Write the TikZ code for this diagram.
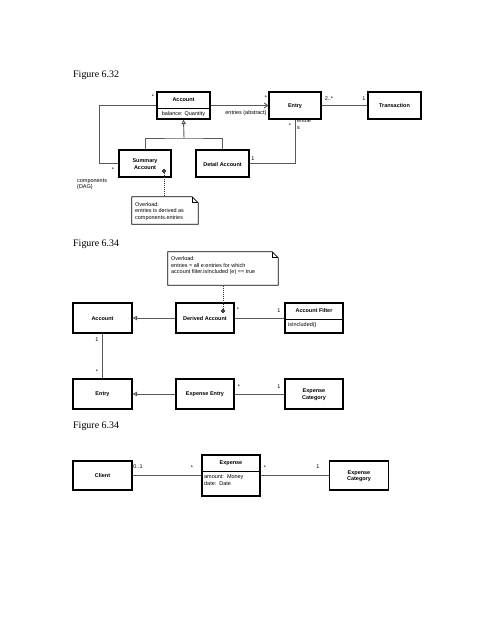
\documentclass[tikz,border=0pt]{standalone}
\usepackage{fontspec}
\setmainfont{Liberation Serif}
\newfontfamily\arialf{Liberation Sans}
\usetikzlibrary{arrows.meta}
\tikzset{
  cls/.style={draw=black, line width=1.2bp, fill=white, inner sep=0pt},
  txt/.style={font=\arialf\fontsize{5.5}{6.6}\selectfont, inner sep=0pt, align=center},
  bname/.style={txt, font=\arialf\bfseries\fontsize{5.5}{6.6}\selectfont},
  ltxt/.style={txt, align=left},
  title/.style={font=\fontsize{10}{12}\selectfont, inner sep=0pt, anchor=west},
  conn/.style={draw=black!65, line width=0.9bp},
  gen/.style={conn, -{Triangle[open, length=4.5bp, width=4.5bp, line width=0.9bp]}},
  nav/.style={conn, -{Straight Barb[length=3.5bp, width=5bp]}},
  notebox/.style={inner sep=0pt, draw=none},
  notelink/.style={draw=black!80, line width=0.8bp, dash pattern=on 1.2bp off 0.8bp},
  pin/.style={circle, draw=black, line width=0.8bp, fill=white, inner sep=0pt, minimum size=3bp},
}
\newcommand{\notedraw}[1]{%
  \draw[line width=0.7bp] (#1.south west) -- (#1.north west) -- ([xshift=-6bp]#1.north east)
    -- ([yshift=-6bp]#1.north east) -- (#1.south east) -- cycle;
  \draw[line width=0.7bp] ([xshift=-6bp]#1.north east) |- ([yshift=-6bp]#1.north east);}
\begin{document}
\begin{tikzpicture}[x=1bp, y=-1bp]
\useasboundingbox (0,0) rectangle (495,640);
\fill[white] (0,0) rectangle (495,640);

% ---------------- Figure 6.32 ----------------
\node[title] (t1) at (73,75) {Figure 6.32};

\node[cls, minimum width=53bp, minimum height=27bp] (acc1) at (183.5,105.5) {};
\draw[line width=1bp] (acc1.west |- 0,109) -- (acc1.east |- 0,109);
\node[bname] (acc1n) at (183.5,100) {Account};
\node[txt] (acc1a) at (183.5,114.5) {balance: Quantity};

\node[cls, minimum width=52bp, minimum height=27bp] (entry1) at (295,105.5) {};
\node[bname] (entry1n) at (295,106) {Entry};

\node[cls, minimum width=53bp, minimum height=27bp] (trans) at (394.5,105.5) {};
\node[bname] (transn) at (394.5,106) {Transaction};

\node[cls, minimum width=52bp, minimum height=27bp] (sum) at (145,163.5) {};
\node[bname] (sumn) at (145,164) {Summary\\Account};

\node[cls, minimum width=53bp, minimum height=27bp] (det) at (222.5,163.5) {};
\node[bname] (detn) at (222.5,164.5) {Detail Account};

\node[notebox, minimum width=66bp, minimum height=27bp] (note1) at (165,210.5) {};
\notedraw{note1}
\node[ltxt, anchor=north west] (note1t) at (135,202) {Overload:\\entries is derived as\\components.entries};

% composite loop
\coordinate (loopc) at (99,105.5);
\draw[conn] (acc1.west) -- (loopc) |- (sum.west);
\node[txt] (m1) at (153,96.5) {*};
\node[txt] (m2) at (113,170) {*};
\node[ltxt, anchor=north west] (comp) at (77,178.5) {components\\\{DAG\}};

% generalization tree
\coordinate (gj) at (184,138);
\draw[conn] (sum.north) |- (gj) -| (det.north);
\draw[gen] (gj) -- (acc1.south);

% account -> entry
\draw[nav] (acc1.east) -- (entry1.west);
\node[txt] (ea) at (246,113.5) {entries (abstract)};
\node[txt] (m3) at (266,97.5) {*};

% entry - transaction
\draw[conn] (entry1.east) -- (trans.west);
\node[txt] (m4) at (329,99) {2..*};
\node[txt] (m5) at (364,99) {1};

% detail - entry
\draw[conn] (det.east) -| (entry1.south);
\node[txt] (m6) at (253,158.5) {1};
\node[txt] (m7) at (290,125.5) {*};
\node[ltxt, anchor=north west] (entl) at (297,118.5) {entrie\\s};

% note link
\node[pin] (pin1) at (164,171) {};
\draw[notelink] (pin1) -- (pin1 |- note1.north);

% ---------------- Figure 6.34 (a) ----------------
\node[title] (t2) at (73,244) {Figure 6.34};

\node[notebox, minimum width=110bp, minimum height=33bp] (note2) at (223,268.5) {};
\notedraw{note2}
\node[ltxt, anchor=north west] (note2t) at (171,256.5) {Overload:\\entries = all e:entries for which\\account filter.isIncluded (e) == true};

\node[cls, minimum width=59bp, minimum height=30bp] (acc2) at (102.5,318) {};
\node[bname] (acc2n) at (102.5,318.5) {Account};

\node[cls, minimum width=58bp, minimum height=30bp] (der) at (205,318) {};
\node[bname] (dern) at (205,318.5) {Derived Account};

\node[cls, minimum width=58bp, minimum height=30bp] (filt) at (314,318) {};
\draw[line width=1bp] (filt.west |- 0,319) -- (filt.east |- 0,319);
\node[bname] (filtn) at (314,311) {Account Filter};
\node[txt, anchor=west] (filta) at (288,325.5) {isIncluded()};

\node[cls, minimum width=59bp, minimum height=30bp] (ent2) at (102.5,394) {};
\node[bname] (ent2n) at (102.5,394.5) {Entry};

\node[cls, minimum width=58bp, minimum height=30bp] (expent) at (205,394) {};
\node[bname] (expentn) at (205,394.5) {Expense Entry};

\node[cls, minimum width=58bp, minimum height=30bp] (expcat) at (314,394) {};
\node[bname] (expcatn) at (314,394.5) {Expense\\Category};

\draw[gen] (der.west) -- (acc2.east);
\draw[gen] (expent.west) -- (ent2.east);
\draw[conn] (der.east) -- (filt.west);
\node[txt] (m8) at (238,309.5) {*};
\node[txt] (m9) at (279,310.5) {1};
\draw[conn] (acc2.south) -- (ent2.north);
\node[txt] (m10) at (97,339.5) {1};
\node[txt] (m11) at (97,371.5) {*};
\draw[conn] (expent.east) -- (expcat.west);
\node[txt] (m12) at (239,386.5) {*};
\node[txt] (m13) at (279,387) {1};

\node[pin] (pin2) at (223,311) {};
\draw[notelink] (pin2) -- (pin2 |- note2.south);

% ---------------- Figure 6.34 (b) ----------------
\node[title] (t3) at (73,426) {Figure 6.34};

\node[cls, minimum width=59bp, minimum height=29bp] (client) at (102.5,475.5) {};
\node[bname] (clientn) at (102.5,476) {Client};

\node[cls, minimum width=58bp, minimum height=41bp] (expense) at (231,475.5) {};
\draw[line width=1bp] (expense.west |- 0,471) -- (expense.east |- 0,471);
\node[bname] (expensen) at (231,463) {Expense};
\node[ltxt, anchor=north west] (expensea) at (204,474.5) {amount:\ \ Money\\date:\ \ Date};

\node[cls, minimum width=59bp, minimum height=29bp] (expcat3) at (359,475.5) {};
\node[bname] (expcat3n) at (359,476) {Expense\\Category};

\draw[conn] (client.east) -- (expense.west);
\draw[conn] (expense.east) -- (expcat3.west);
\node[txt] (m14) at (138,467) {0..1};
\node[txt] (m15) at (192,467.5) {*};
\node[txt] (m16) at (265,467.5) {*};
\node[txt] (m17) at (318,467) {1};
\end{tikzpicture}
\end{document}
